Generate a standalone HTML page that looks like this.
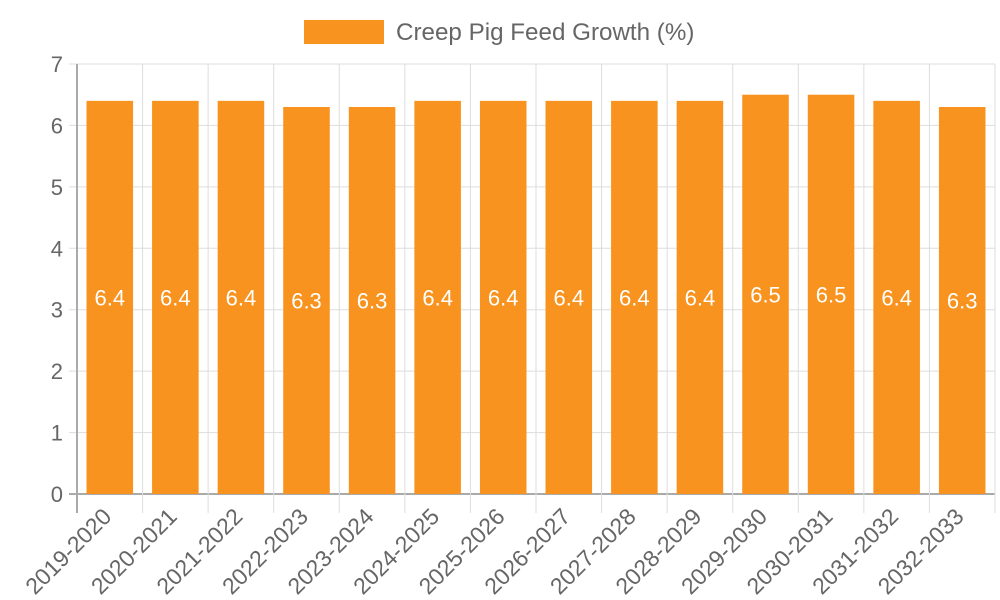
<!DOCTYPE html>
<html><head><meta charset="utf-8"><style>
body{margin:0;background:#fff;}
svg{display:block;font-family:"Liberation Sans",sans-serif;}
</style></head><body>
<svg id="chart" width="1000" height="600">
<g id="legend">
<rect x="304" y="20" width="80" height="24" fill="#f7931e"></rect>
<text x="396" y="40" font-size="24.2" fill="#666">Creep Pig Feed Growth (%)</text>
</g>
<g id="grid"></g><g id="bars"></g><g id="labels"></g>
</svg>
<script>
const categories=["2019-2020","2020-2021","2021-2022","2022-2023","2023-2024","2024-2025","2025-2026","2026-2027","2027-2028","2028-2029","2029-2030","2030-2031","2031-2032","2032-2033"];
const values=[6.4,6.4,6.4,6.3,6.3,6.4,6.4,6.4,6.4,6.4,6.5,6.5,6.4,6.3];
const yTicks=[0,1,2,3,4,5,6,7];
const NS="http://www.w3.org/2000/svg";
const L=77,R=995,T=64,B=494,yMax=7;
const cw=(R-L)/categories.length;
const y=v=>B-(v/yMax)*(B-T);
const x=i=>L+i*cw;
function mk(tag,attrs,parent,text){const e=document.createElementNS(NS,tag);for(const k in attrs)e.setAttribute(k,attrs[k]);if(text!==undefined)e.textContent=text;parent.appendChild(e);return e;}
const grid=document.getElementById('grid'),bars=document.getElementById('bars'),labels=document.getElementById('labels');
yTicks.forEach(t=>{
 const l=mk('line',{x1:L-8,x2:R,y1:y(t),y2:y(t),stroke:t===0?'#aaa':'#ddd','stroke-width':t===0?2:1},grid);
 
 
 const tx=mk('text',{x:L-14,y:y(t)+8,'text-anchor':'end','font-size':22,fill:'#666'},grid,String(t));
 
 
});
for(let i=0;i<=categories.length;i++){
 const l=mk('line',{x1:x(i),x2:x(i),y1:T,y2:B+19,stroke:i===0?'#aaa':'#ddd','stroke-width':i===0?2:1},grid);
 
 
}
categories.forEach((c,i)=>{
 const bw=cw*0.71,bx=x(i)+(cw-bw)/2;
 const r=mk('rect',{x:bx,y:y(values[i]),width:bw,height:B-y(values[i]),fill:'#f7931e'},bars);
 
 
 const v=mk('text',{x:bx+bw/2,y:(y(values[i])+B)/2+8,'text-anchor':'middle','font-size':22,fill:'#fff'},labels,String(values[i]));
 
 
 const cx=x(i)+cw/2+3,cy=B+24;
 const t=mk('text',{x:cx,y:cy,'text-anchor':'end','font-size':23,fill:'#666',transform:`rotate(-45 ${cx} ${cy})`},labels,c);
 
 
});
</script>
</body></html>
